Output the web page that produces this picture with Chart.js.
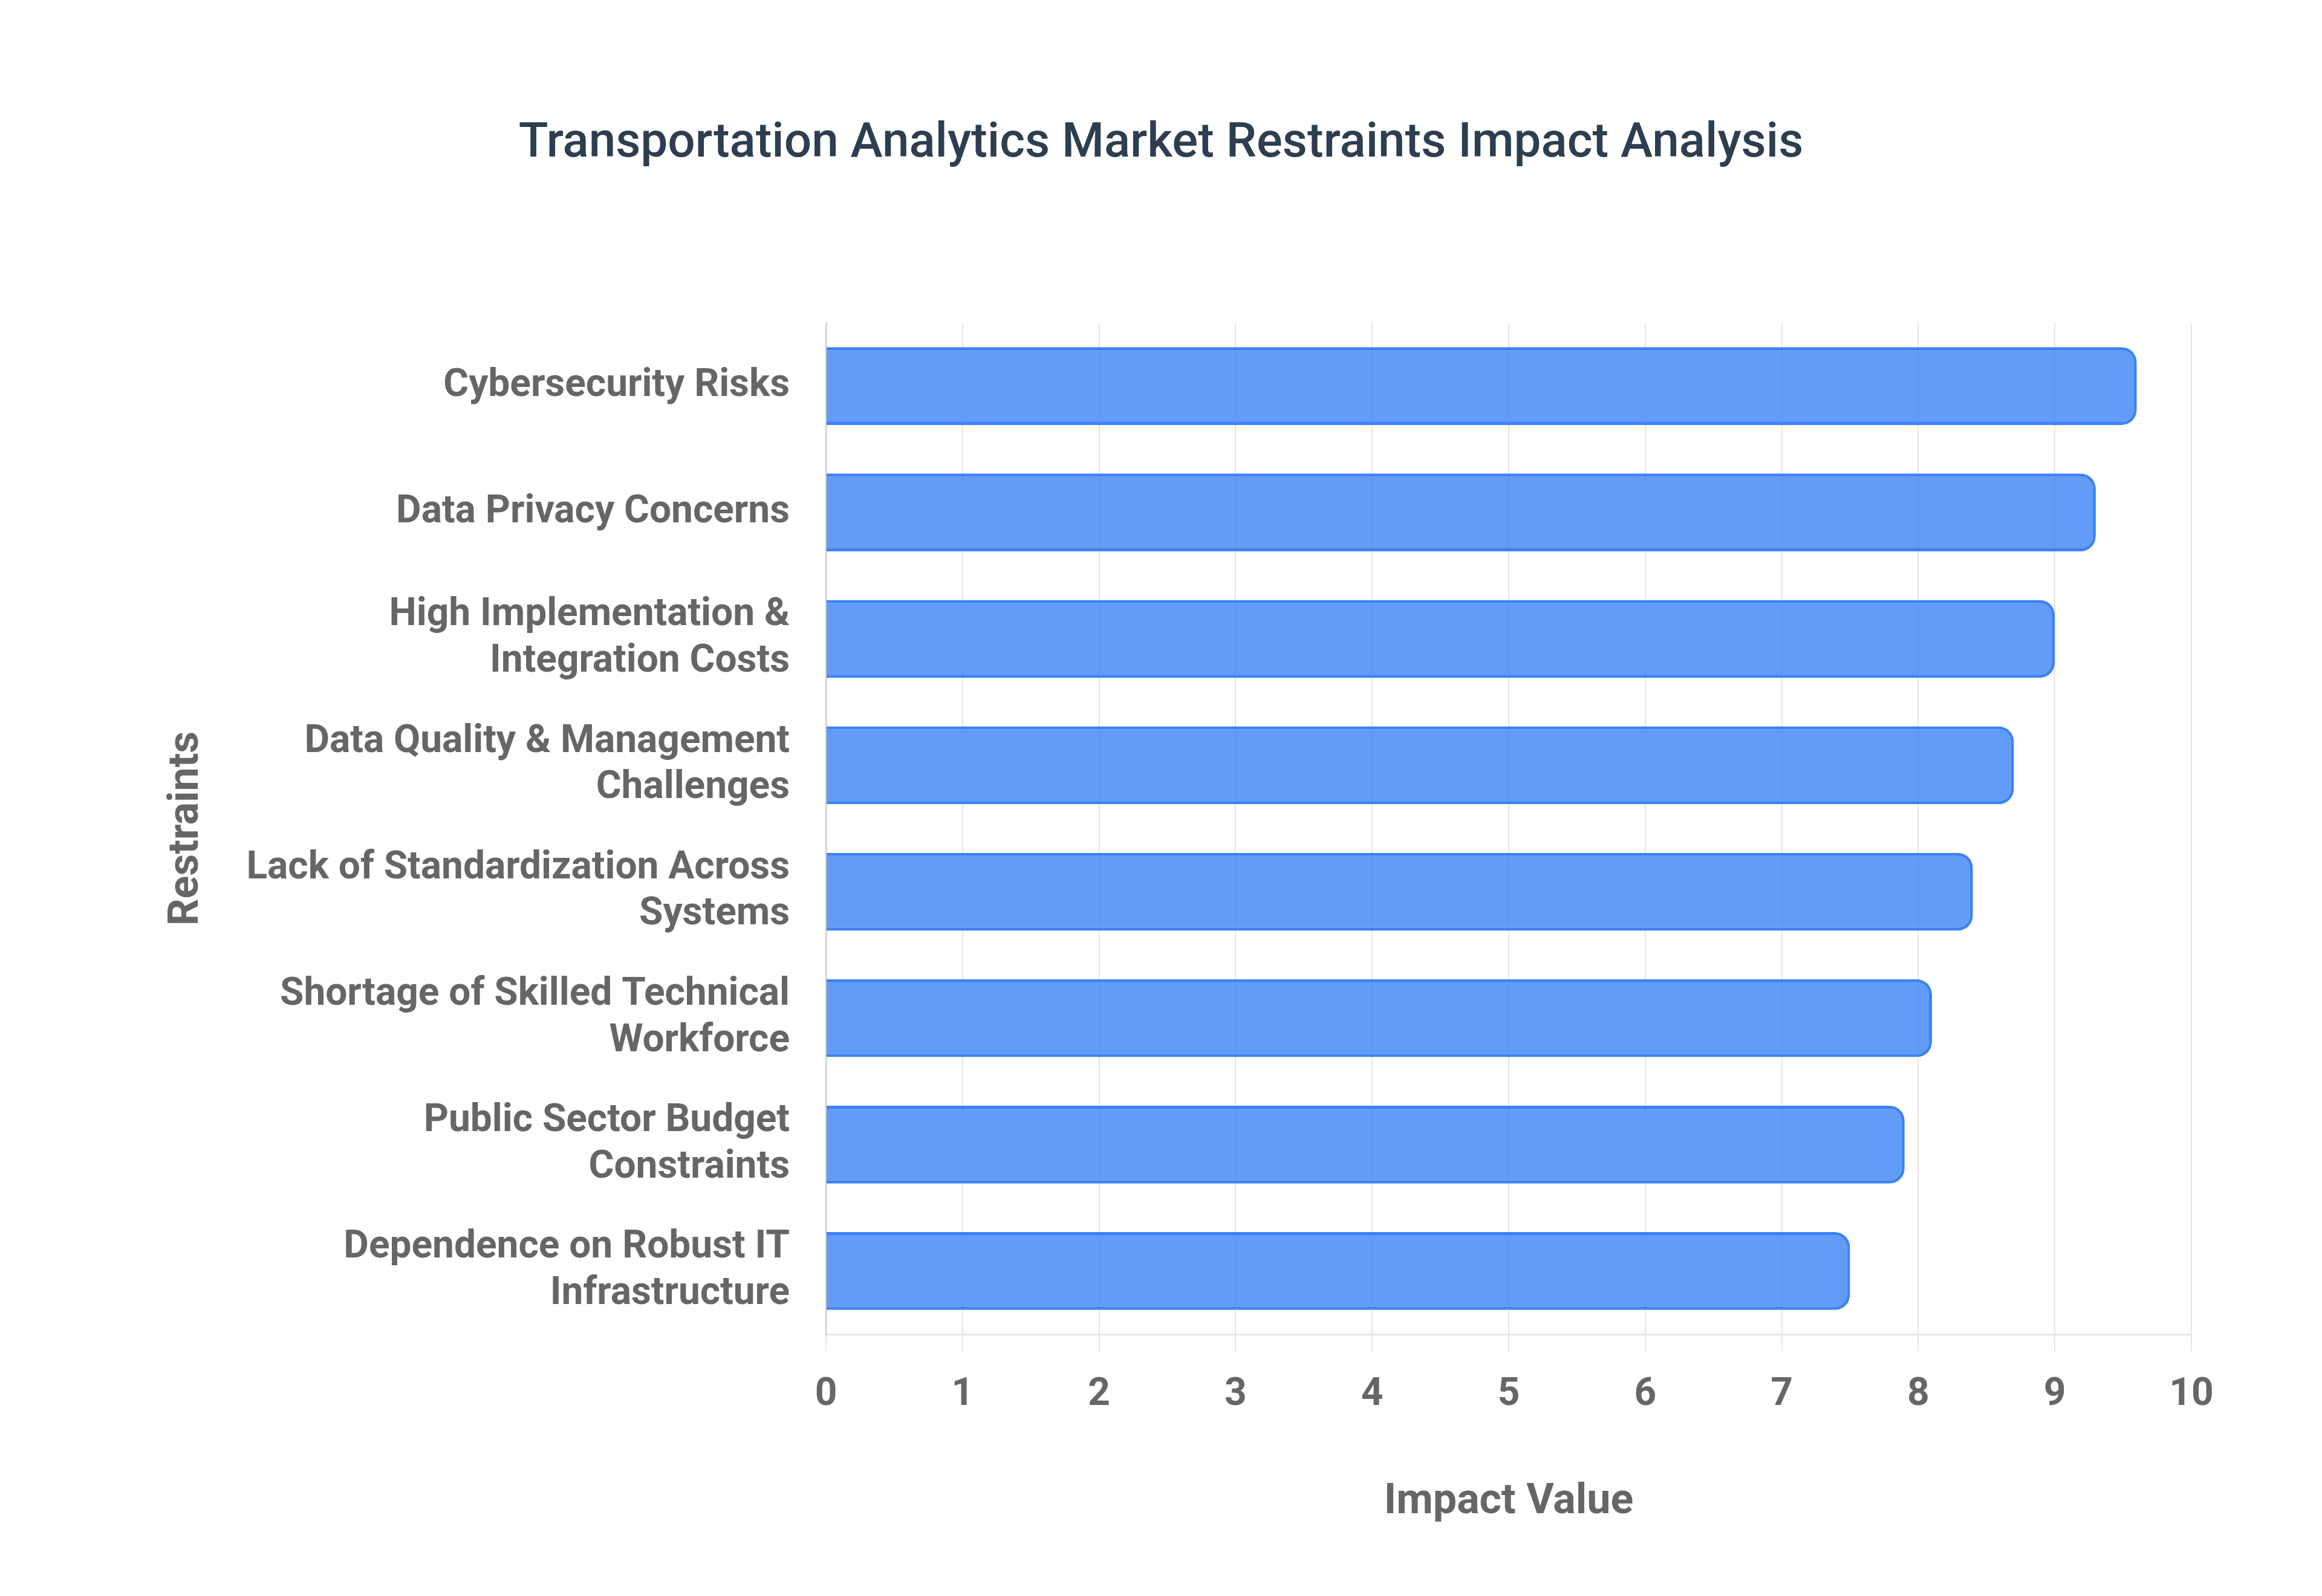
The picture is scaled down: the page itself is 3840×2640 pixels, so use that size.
<!DOCTYPE html>
<html>
<head>
<meta charset="utf-8">
<script src="https://cdn.jsdelivr.net/npm/chart.js@4.4.1/dist/chart.umd.min.js"></script>
<style>
  html, body { margin: 0; padding: 0; background: #ffffff; }
  #wrap { width: 3840px; height: 2640px; position: relative; }
  canvas { display: block; }
</style>
</head>
<body>
<div id="wrap"><canvas id="chart" width="3840" height="2640"></canvas></div>
<script>
// ---- data ----
const chartTitle = 'Transportation Analytics Market Restraints Impact Analysis';
const categories = [
  ['Cybersecurity Risks'],
  ['Data Privacy Concerns'],
  ['High Implementation &', 'Integration Costs'],
  ['Data Quality & Management', 'Challenges'],
  ['Lack of Standardization Across', 'Systems'],
  ['Shortage of Skilled Technical', 'Workforce'],
  ['Public Sector Budget', 'Constraints'],
  ['Dependence on Robust IT', 'Infrastructure']
];
const impactValues = [9.6, 9.3, 9.0, 8.7, 8.4, 8.1, 7.9, 7.5];
const xTickLabels = ['0', '1', '2', '3', '4', '5', '6', '7', '8', '9', '10'];
const xAxisTitle = 'Impact Value';
const yAxisTitle = 'Restraints';

const W = 3840, H = 2640;
const AREA_LEFT = 1366, AREA_RIGHT = 3624, AREA_TOP = 534, AREA_BOTTOM = 2207;
const TITLE_SIZE = 80;
const TITLE_PAD_TOP = 191;

const tickFont = { family: 'Roboto', size: 64, weight: 'bold' };
const axisTitleFont = { family: 'Roboto', size: 70, weight: 'bold' };
const gridColor = 'rgba(0,0,0,0.1)';

new Chart(document.getElementById('chart').getContext('2d'), {
  type: 'bar',
  data: {
    labels: categories,
    datasets: [{
      label: xAxisTitle,
      data: impactValues,
      backgroundColor: 'rgba(59,130,246,0.8)',
      borderColor: '#3b82f6',
      borderWidth: 5,
      borderRadius: 25,
      borderSkipped: 'start',
      categoryPercentage: 0.8,
      barPercentage: 0.77,
      yAxisID: 'y',
      xAxisID: 'x'
    }]
  },
  options: {
    indexAxis: 'y',
    responsive: false,
    maintainAspectRatio: false,
    devicePixelRatio: 1,
    animation: false,
    layout: { padding: 0 },
    plugins: {
      legend: { display: false },
      tooltip: { enabled: false },
      title: {
        display: true,
        text: chartTitle,
        color: '#2c3e50',
        font: { family: 'Roboto', size: TITLE_SIZE, weight: '500' },
        padding: { top: TITLE_PAD_TOP, bottom: AREA_TOP - TITLE_PAD_TOP - TITLE_SIZE * 1.2 }
      }
    },
    scales: {
      x: {
        min: 0,
        max: 10,
        afterFit: (scale) => { scale.height = H - AREA_BOTTOM; },
        ticks: {
          stepSize: 1,
          color: '#666666',
          font: tickFont,
          padding: 35,
          callback: (value, index) => xTickLabels[index]
        },
        grid: {
          display: true,
          color: gridColor,
          lineWidth: 2,
          drawTicks: true,
          tickLength: 28,
          tickColor: gridColor
        },
        border: { display: true, color: gridColor, width: 3 },
        title: {
          display: true,
          text: xAxisTitle,
          color: '#666666',
          font: axisTitleFont,
          padding: { top: 0, bottom: 113 }
        }
      },
      y: {
        afterFit: (scale) => { scale.width = AREA_LEFT; },
        ticks: {
          color: '#666666',
          font: tickFont,
          padding: 60
        },
        grid: { display: false, drawTicks: false },
        border: { display: true, color: gridColor, width: 3 },
        title: {
          display: true,
          text: yAxisTitle,
          color: '#666666',
          font: axisTitleFont,
          padding: { top: 267, bottom: 0 }
        }
      },
      rightSpace: {
        type: 'linear',
        position: 'right',
        display: true,
        afterFit: (scale) => { scale.width = W - AREA_RIGHT; },
        ticks: { display: false },
        grid: { display: false, drawTicks: false },
        border: { display: false },
        title: { display: false }
      }
    }
  }
});
</script>
</body>
</html>
